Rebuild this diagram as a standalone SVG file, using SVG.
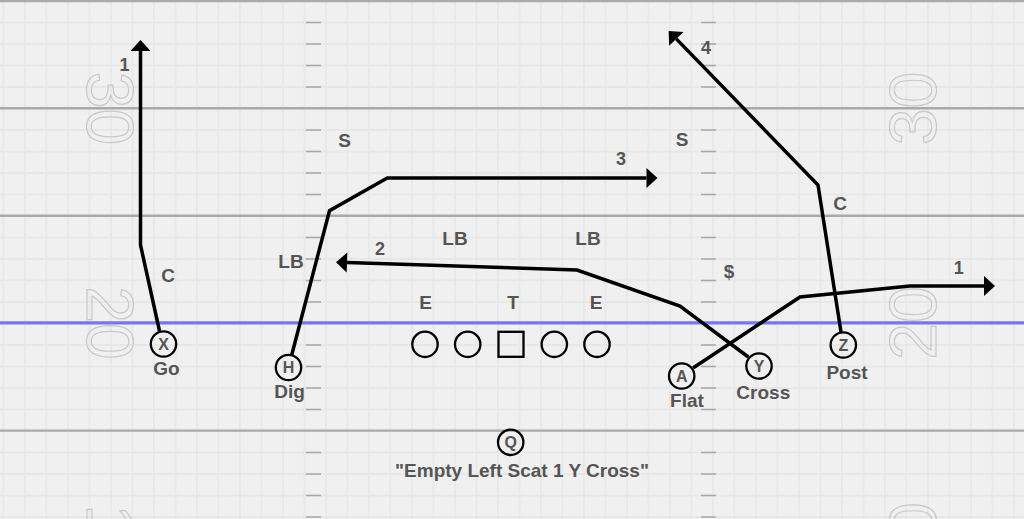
<svg xmlns="http://www.w3.org/2000/svg" width="1024" height="519" viewBox="0 0 1024 519">
  <style>
    .yard { stroke: #aaaaaa; stroke-width: 2.4; fill: none; }
    .hash { stroke: #a8a8a8; stroke-width: 1.3; fill: none; }
    .num { font-family: "Liberation Sans", Arial, sans-serif; font-size: 66px; fill: none; stroke: #c8c8c8; stroke-width: 1.2; text-anchor: middle; }
    .lbl { font-family: "Liberation Sans", Arial, sans-serif; font-weight: bold; font-size: 19px; fill: #555555; text-anchor: middle; }
    .rn { font-family: "Liberation Sans", Arial, sans-serif; font-weight: bold; font-size: 18px; fill: #555555; text-anchor: middle; }
    .pl { font-family: "Liberation Sans", Arial, sans-serif; font-weight: bold; font-size: 16px; fill: #555555; text-anchor: middle; }
    .ply { fill: none; stroke: #000000; stroke-width: 2.3; }
    .route { fill: none; stroke: #000000; stroke-width: 3.5; stroke-linejoin: miter; marker-end: url(#arrow); }
  </style>
  <defs>
    <pattern id="grid" patternUnits="userSpaceOnUse" x="-7.25" y="-9.75" width="21.5" height="21.5">
      <path d="M10.75,0 V21.5 M0,10.75 H21.5" stroke="#e5e5e5" stroke-width="1.3" fill="none"/>
    </pattern>
    <marker id="arrow" markerUnits="userSpaceOnUse" markerWidth="12" markerHeight="22" refX="0" refY="10" orient="auto" overflow="visible">
      <path d="M0,0 L11,10 L0,20 Z" fill="#000000"/>
    </marker>
  </defs>

  <g id="field">
    <rect x="0" y="0" width="1024" height="519" fill="#f0f0f0"/>
    <rect x="0" y="0" width="1024" height="519" fill="url(#grid)"/>
    <line class="yard" x1="0" y1="1" x2="1024" y2="1"/>
    <line class="yard" x1="0" y1="108.3" x2="1024" y2="108.3"/>
    <line class="yard" x1="0" y1="215.7" x2="1024" y2="215.7"/>
    <line class="yard" x1="0" y1="430.6" x2="1024" y2="430.6"/>
    <line x1="0" y1="322.8" x2="1024" y2="322.8" stroke="#7676f0" stroke-width="3.2"/>
    <path class="hash" d="M306,22.5 H321 M306,44 H321 M306,65.5 H321 M306,87 H321 M306,130 H321 M306,151.5 H321 M306,173 H321 M306,194.5 H321 M306,237.5 H321 M306,259 H321 M306,280.5 H321 M306,302 H321 M306,345 H321 M306,366.5 H321 M306,388 H321 M306,409.5 H321 M306,452.5 H321 M306,474 H321 M306,495.5 H321 M306,517 H321"/>
    <path class="hash" d="M701,22.5 H716 M701,44 H716 M701,65.5 H716 M701,87 H716 M701,130 H716 M701,151.5 H716 M701,173 H716 M701,194.5 H716 M701,237.5 H716 M701,259 H716 M701,280.5 H716 M701,302 H716 M701,345 H716 M701,366.5 H716 M701,388 H716 M701,409.5 H716 M701,452.5 H716 M701,474 H716 M701,495.5 H716 M701,517 H716"/>
    <text class="num" transform="translate(87,108.5) rotate(90)">30</text>
    <text class="num" transform="translate(87,323) rotate(90)">20</text>
    <text class="num" transform="translate(87,541) rotate(90)">10</text>
    <text class="num" transform="translate(936,108.5) rotate(-90)">30</text>
    <text class="num" transform="translate(936,323) rotate(-90)">20</text>
    <text class="num" transform="translate(936,539) rotate(-90)">10</text>
  </g>

  <g id="connectors">
    <path class="route" d="M159.5,331 L140.5,245 L140.5,51"/>
    <path class="route" d="M291.7,355 L329.5,210.7 L387.3,178 L646.5,178"/>
    <path class="route" d="M748.3,357 L680,306 L577,270 L347,262.5"/>
    <path class="route" d="M693,368 L800,297 L910,286 L984,286"/>
    <path class="route" d="M841,332 L818,185 L676.3,38.9"/>
  </g>

  <g id="route-numbers">
    <text class="rn" x="124.5" y="71">1</text>
    <text class="rn" x="706" y="54.3">4</text>
    <text class="rn" x="621" y="165">3</text>
    <text class="rn" x="380" y="255">2</text>
    <text class="rn" x="958.7" y="274">1</text>
  </g>

  <g id="defense">
    <text class="lbl" x="344.5" y="146.5">S</text>
    <text class="lbl" x="682" y="146">S</text>
    <text class="lbl" x="168" y="281.7">C</text>
    <text class="lbl" x="840" y="210">C</text>
    <text class="lbl" x="291" y="268">LB</text>
    <text class="lbl" x="455" y="245">LB</text>
    <text class="lbl" x="588" y="245">LB</text>
    <text class="lbl" x="729" y="278">$</text>
    <text class="lbl" x="425.5" y="309">E</text>
    <text class="lbl" x="513" y="309">T</text>
    <text class="lbl" x="596" y="309">E</text>
  </g>

  <g id="player-X">
    <circle class="ply" cx="163.5" cy="344" r="12.7"/>
    <text class="pl" x="163.5" y="349.7">X</text>
    <text class="lbl" x="166.5" y="375">Go</text>
  </g>
  <g id="player-H">
    <circle class="ply" cx="288.5" cy="367.5" r="12.7"/>
    <text class="pl" x="288.5" y="373.2">H</text>
    <text class="lbl" x="289.5" y="398">Dig</text>
  </g>
  <g id="ol-1"><circle class="ply" cx="425" cy="344.3" r="12.7"/></g>
  <g id="ol-2"><circle class="ply" cx="467.7" cy="344.3" r="12.7"/></g>
  <g id="center"><rect class="ply" x="498.5" y="331.8" width="25" height="25"/></g>
  <g id="ol-4"><circle class="ply" cx="554.3" cy="344.3" r="12.7"/></g>
  <g id="ol-5"><circle class="ply" cx="597" cy="344.3" r="12.7"/></g>
  <g id="player-Q">
    <circle class="ply" cx="510.7" cy="442.3" r="12.7"/>
    <text class="pl" x="510.7" y="448">Q</text>
  </g>
  <g id="player-A">
    <circle class="ply" cx="681.7" cy="376" r="12.7"/>
    <text class="pl" x="681.7" y="381.7">A</text>
    <text class="lbl" x="687" y="406.7">Flat</text>
  </g>
  <g id="player-Y">
    <circle class="ply" cx="759" cy="366" r="12.7"/>
    <text class="pl" x="759" y="371.7">Y</text>
    <text class="lbl" x="763.3" y="399">Cross</text>
  </g>
  <g id="player-Z">
    <circle class="ply" cx="843.3" cy="345" r="12.7"/>
    <text class="pl" x="843.3" y="350.7">Z</text>
    <text class="lbl" x="847" y="379">Post</text>
  </g>

  <g id="title">
    <text class="lbl" x="522" y="476.7">"Empty Left Scat 1 Y Cross"</text>
  </g>
</svg>
